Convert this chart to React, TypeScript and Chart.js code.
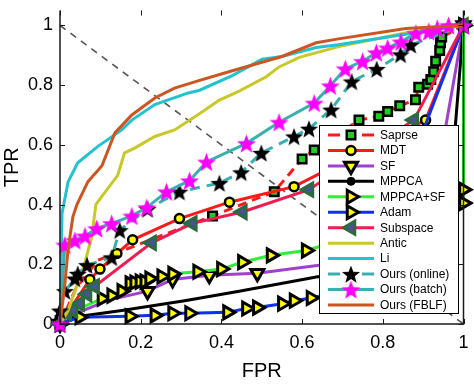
import { useEffect, useRef } from "react";
import { Chart, registerables } from "chart.js";
import { drawPoint } from "chart.js/helpers";

Chart.register(...registerables);

const FONT = '"Liberation Sans", Arial, Helvetica, sans-serif';

// Axis ticks
const xTicks = [0, 0.2, 0.4, 0.6, 0.8, 1];
const yTicks = [0, 0.2, 0.4, 0.6, 0.8, 1];
const xTickLabels = ["0", "0.2", "0.4", "0.6", "0.8", "1"];
const yTickLabels = ["0", "0.2", "0.4", "0.6", "0.8", "1"];

// Chance (EER) diagonal
const diagX = [0, 1];
const diagY = [1, 0];

// Series (FPR, TPR)
const saprseX = [0, 0.04, 0.094, 0.267, 0.378, 0.531, 0.6, 0.63, 0.741, 0.79, 0.812, 0.842, 0.881, 0.889, 0.911, 0.919, 0.926, 0.931, 0.941, 0.943, 0.946, 1];
const saprseY = [0, 0.12, 0.214, 0.304, 0.362, 0.443, 0.553, 0.583, 0.683, 0.696, 0.712, 0.731, 0.751, 0.793, 0.803, 0.819, 0.845, 0.88, 0.916, 0.942, 0.961, 1];

const mdtX = [0, 0.074, 0.099, 0.141, 0.18, 0.296, 0.42, 0.58, 0.906, 1];
const mdtY = [0, 0.149, 0.184, 0.236, 0.282, 0.353, 0.408, 0.46, 0.683, 1];

const sfX = [0, 0.03, 0.12, 0.217, 0.279, 0.37, 0.489, 0.642, 0.9, 1];
const sfY = [0, 0.03, 0.08, 0.11, 0.149, 0.163, 0.17, 0.197, 0.23, 1];

const mppcaX = [0, 0.02, 0.153, 0.309, 0.444, 0.642, 0.955, 1];
const mppcaY = [0, 0.02, 0.045, 0.078, 0.11, 0.159, 0.25, 1];

const mppcaSfX = [0, 0.037, 0.104, 0.128, 0.153, 0.173, 0.185, 0.198, 0.21, 0.222, 0.252, 0.279, 0.341, 0.4, 0.452, 0.523, 0.61, 0.99, 1, 1, 1];
const mppcaSfY = [0, 0.045, 0.085, 0.095, 0.11, 0.136, 0.139, 0.142, 0.142, 0.152, 0.159, 0.168, 0.175, 0.184, 0.207, 0.23, 0.246, 0.4, 0.405, 0.45, 1];

const adamX = [0, 0.049, 0.173, 0.235, 0.279, 0.321, 0.415, 0.462, 0.489, 0.551, 0.58, 0.622, 0.75, 1];
const adamY = [0, 0.023, 0.026, 0.029, 0.036, 0.036, 0.039, 0.052, 0.055, 0.068, 0.078, 0.087, 0.12, 1];

const subspaceX = [0, 0.017, 0.032, 0.049, 0.067, 0.086, 0.227, 0.328, 0.452, 0.617, 0.877, 1];
const subspaceY = [0, 0.036, 0.045, 0.068, 0.1, 0.126, 0.272, 0.337, 0.375, 0.45, 0.683, 1];

const anticX = [0, 0.02, 0.054, 0.062, 0.079, 0.086, 0.089, 0.143, 0.16, 0.185, 0.235, 0.284, 0.341, 0.395, 0.444, 0.511, 0.543, 0.593, 0.691, 0.864, 1];
const anticY = [0, 0.045, 0.175, 0.207, 0.294, 0.369, 0.401, 0.498, 0.573, 0.589, 0.628, 0.65, 0.7, 0.75, 0.78, 0.828, 0.861, 0.893, 0.929, 0.977, 1];

const liX = [0, 0.003, 0.005, 0.02, 0.044, 0.094, 0.153, 0.178, 0.235, 0.316, 0.346, 0.427, 0.501, 0.55, 0.635, 0.69, 0.872, 1];
const liY = [0, 0.2, 0.37, 0.476, 0.54, 0.595, 0.65, 0.683, 0.735, 0.773, 0.783, 0.832, 0.887, 0.896, 0.926, 0.935, 0.974, 1];

const onlineX = [0, 0, 0.012, 0.037, 0.044, 0.067, 0.128, 0.148, 0.217, 0.296, 0.395, 0.449, 0.499, 0.58, 0.617, 0.672, 0.723, 0.785, 0.844, 0.869, 1];
const onlineY = [0, 0.045, 0.11, 0.152, 0.168, 0.197, 0.223, 0.314, 0.385, 0.443, 0.472, 0.508, 0.573, 0.628, 0.654, 0.718, 0.812, 0.854, 0.903, 0.935, 1];

const batchX = [0, 0.012, 0.037, 0.062, 0.091, 0.128, 0.178, 0.215, 0.264, 0.321, 0.363, 0.462, 0.543, 0.63, 0.67, 0.707, 0.75, 0.784, 0.812, 0.845, 0.882, 0.914, 0.935, 0.963, 1];
const batchY = [0, 0.265, 0.28, 0.295, 0.32, 0.337, 0.362, 0.39, 0.443, 0.48, 0.543, 0.605, 0.676, 0.74, 0.798, 0.855, 0.88, 0.909, 0.925, 0.945, 0.974, 0.98, 0.99, 1, 1];

const fblfX = [0, 0.012, 0.02, 0.032, 0.042, 0.069, 0.104, 0.136, 0.178, 0.235, 0.284, 0.346, 0.427, 0.55, 0.635, 0.69, 0.857, 0.995, 1];
const fblfY = [0, 0.133, 0.25, 0.36, 0.4, 0.476, 0.53, 0.64, 0.7, 0.757, 0.79, 0.816, 0.848, 0.896, 0.942, 0.955, 0.99, 1, 1];

type Series = {
  label: string;
  xs: number[];
  ys: number[];
  color: string;
  dash?: number[];
  style?: any;
  rot?: number;
  r?: number;
  fill?: string;
  edge?: string;
  bw?: number;
  hide?: number[];
};

function makeStar(size: number, fill: string) {
  const c = document.createElement("canvas");
  c.width = size;
  c.height = size;
  const g = c.getContext("2d")!;
  const cx = size / 2;
  const cy = size / 2 + size * 0.05;
  const R = size / 2 - 0.5;
  const r = R * 0.42;
  g.beginPath();
  for (let i = 0; i < 10; i++) {
    const a = -Math.PI / 2 + (i * Math.PI) / 5;
    const rr = i % 2 === 0 ? R : r;
    g.lineTo(cx + rr * Math.cos(a), cy + rr * Math.sin(a));
  }
  g.closePath();
  g.fillStyle = fill;
  g.fill();
  return c;
}

export default function App() {
  const ref = useRef<HTMLCanvasElement | null>(null);

  useEffect(() => {
    if (!ref.current) return;
    const blackStar = makeStar(20, "#000000");
    const magentaStar = makeStar(21, "#FF00FF");

    const series: Series[] = [
      { label: "Saprse", xs: saprseX, ys: saprseY, color: "#FF1A1A", dash: [9, 6], style: "rect", r: 6, fill: "#22CC22", edge: "#000", bw: 2.5, hide: [1, 2, 3] },
      { label: "MDT", xs: mdtX, ys: mdtY, color: "#FF1A1A", style: "circle", r: 4.5, fill: "#FFFF00", edge: "#000", bw: 2.5 },
      { label: "SF", xs: sfX, ys: sfY, color: "#A040D0", style: "triangle", rot: 180, r: 7.5, fill: "#FFFF00", edge: "#000", bw: 3, hide: [1, 2, 7, 8] },
      { label: "MPPCA", xs: mppcaX, ys: mppcaY, color: "#000000", style: "circle", r: 4, fill: "#000", edge: "#000", bw: 1, hide: [1, 2, 3, 4, 5, 6] },
      { label: "MPPCA+SF", xs: mppcaSfX, ys: mppcaSfY, color: "#33EE33", style: "triangle", rot: 90, r: 7.5, fill: "#FFFF00", edge: "#000", bw: 3, hide: [1, 17] },
      { label: "Adam", xs: adamX, ys: adamY, color: "#1030F0", style: "triangle", rot: 90, r: 7.5, fill: "#FFFF00", edge: "#000", bw: 3, hide: [12] },
      { label: "Subspace", xs: subspaceX, ys: subspaceY, color: "#EE1C50", style: "triangle", rot: 270, r: 7.5, fill: "#4B4FA0", edge: "#2B6B3C", bw: 3 },
      { label: "Antic", xs: anticX, ys: anticY, color: "#C8C828" },
      { label: "Li", xs: liX, ys: liY, color: "#22C3CC" },
      { label: "Ours (online)", xs: onlineX, ys: onlineY, color: "#3AAFB0", dash: [10, 7], style: blackStar, r: 9 },
      { label: "Ours (batch)", xs: batchX, ys: batchY, color: "#3AAFB0", style: magentaStar, r: 9 },
      { label: "Ours (FBLF)", xs: fblfX, ys: fblfY, color: "#CC5522" },
    ];

    const n = series.length;
    const datasets: any[] = series.map((s, i) => {
      const hide = s.hide || [];
      const r = s.r || 0;
      return {
        label: s.label,
        data: s.xs.map((x, k) => ({ x, y: s.ys[k] })),
        borderColor: s.color,
        borderWidth: 3,
        borderDash: s.dash || [],
        fill: false,
        tension: 0,
        clip: false,
        order: n - i,
        pointStyle: s.style || "circle",
        pointRotation: s.rot || 0,
        pointRadius: s.style ? (ctx: any) => (hide.includes(ctx.dataIndex) ? 0 : r) : 0,
        pointBackgroundColor: s.fill || s.color,
        pointBorderColor: s.edge || s.color,
        pointBorderWidth: s.bw || 0,
      };
    });
    datasets.push({
      label: "diag",
      data: diagX.map((x, k) => ({ x, y: diagY[k] })),
      borderColor: "#555555",
      borderWidth: 1.6,
      borderDash: [7, 6],
      pointRadius: 0,
      fill: false,
      order: 100,
    });

    const axesPlugin = {
      id: "axesBox",
      afterDatasetsDraw(chart: any) {
        const { ctx, chartArea } = chart;
        const { left, right, top, bottom } = chartArea;
        const xs = chart.scales.x;
        const ys = chart.scales.y;
        ctx.save();
        ctx.strokeStyle = "#1a1a1a";
        ctx.lineWidth = 1.5;
        ctx.setLineDash([]);
        ctx.beginPath();
        ctx.moveTo(left, top);
        ctx.lineTo(left, bottom);
        ctx.lineTo(right, bottom);
        ctx.lineTo(right, top);
        ctx.stroke();
        ctx.lineWidth = 1;
        ctx.beginPath();
        xTicks.forEach((v) => {
          const p = Math.round(xs.getPixelForValue(v)) + 0.5;
          ctx.moveTo(p, bottom);
          ctx.lineTo(p, bottom - 5);
          ctx.moveTo(p, top);
          ctx.lineTo(p, top + 5);
        });
        yTicks.forEach((v) => {
          const p = Math.round(ys.getPixelForValue(v)) + 0.5;
          ctx.moveTo(left, p);
          ctx.lineTo(left + 5, p);
          ctx.moveTo(right, p);
          ctx.lineTo(right - 5, p);
        });
        ctx.stroke();
        ctx.restore();
      },
    };

    const legendPlugin = {
      id: "boxLegend",
      afterDraw(chart: any) {
        const ctx = chart.ctx;
        ctx.save();
        const L = 319.5, T = 125.5, R = 458.5, B = 313.5;
        ctx.fillStyle = "#ffffff";
        ctx.fillRect(L, T, R - L, B - T);
        ctx.strokeStyle = "#000";
        ctx.lineWidth = 1;
        ctx.strokeRect(L, T, R - L, B - T);
        series.forEach((s, i) => {
          const y = 135 + i * 15.45;
          ctx.beginPath();
          ctx.setLineDash(s.dash ? [12, 22] : []);
          ctx.strokeStyle = s.color;
          ctx.lineWidth = 3;
          ctx.moveTo(328, y);
          ctx.lineTo(374, y);
          ctx.stroke();
          ctx.setLineDash([]);
          if (s.style) {
            ctx.fillStyle = s.fill || s.color;
            ctx.strokeStyle = s.edge || s.color;
            ctx.lineWidth = s.bw || 0;
            drawPoint(ctx, { pointStyle: s.style, rotation: s.rot || 0, radius: s.r || 0, borderWidth: s.bw || 0 } as any, 351, y);
          }
          ctx.fillStyle = "#000";
          ctx.font = `12px ${FONT}`;
          ctx.textBaseline = "middle";
          ctx.textAlign = "left";
          ctx.fillText(s.label, 380, y + 0.5);
        });
        ctx.restore();
      },
    };

    const chart = new Chart(ref.current, {
      type: "line",
      data: { datasets },
      options: {
        animation: false,
        responsive: false,
        devicePixelRatio: 1,
        events: [],
        layout: { padding: { left: 0, right: 9, top: 0, bottom: 0 } },
        plugins: { legend: { display: false }, tooltip: { enabled: false } },
        scales: {
          x: {
            type: "linear",
            min: 0,
            max: 1,
            afterBuildTicks: (s: any) => {
              s.ticks = xTicks.map((v) => ({ value: v }));
            },
            afterFit: (s: any) => {
              s.height = 60;
              s.paddingLeft = 0;
              s.paddingRight = 0;
            },
            ticks: {
              callback: (_v: any, i: number) => xTickLabels[i],
              color: "#000",
              font: { size: 18, family: FONT },
              padding: 8,
              maxRotation: 0,
              autoSkip: false,
            },
            grid: { display: false, drawTicks: false, tickLength: 0 },
            border: { display: false },
            title: { display: true, text: "FPR", color: "#000", font: { size: 20, family: FONT }, padding: { top: 0, bottom: 1 } },
          },
          y: {
            type: "linear",
            min: 0,
            max: 1.05,
            afterBuildTicks: (s: any) => {
              s.ticks = yTicks.map((v) => ({ value: v }));
            },
            afterFit: (s: any) => {
              s.width = 60;
              s.paddingTop = 0;
              s.paddingBottom = 0;
            },
            ticks: {
              callback: (_v: any, i: number) => yTickLabels[i],
              color: "#000",
              font: { size: 18, family: FONT },
              padding: 7,
              autoSkip: false,
            },
            grid: { display: false, drawTicks: false, tickLength: 0 },
            border: { display: false },
            title: { display: true, text: "TPR", color: "#000", font: { size: 20, family: FONT }, padding: { top: 0, bottom: 0 } },
          },
        },
      } as any,
      plugins: [axesPlugin, legendPlugin],
    });
    return () => chart.destroy();
  }, []);

  return (
    <div style={{ position: "absolute", left: 0, top: 0, width: 474, height: 384, background: "#fff" }}>
      <canvas ref={ref} width={474} height={384} style={{ display: "block" }} />
    </div>
  );
}
